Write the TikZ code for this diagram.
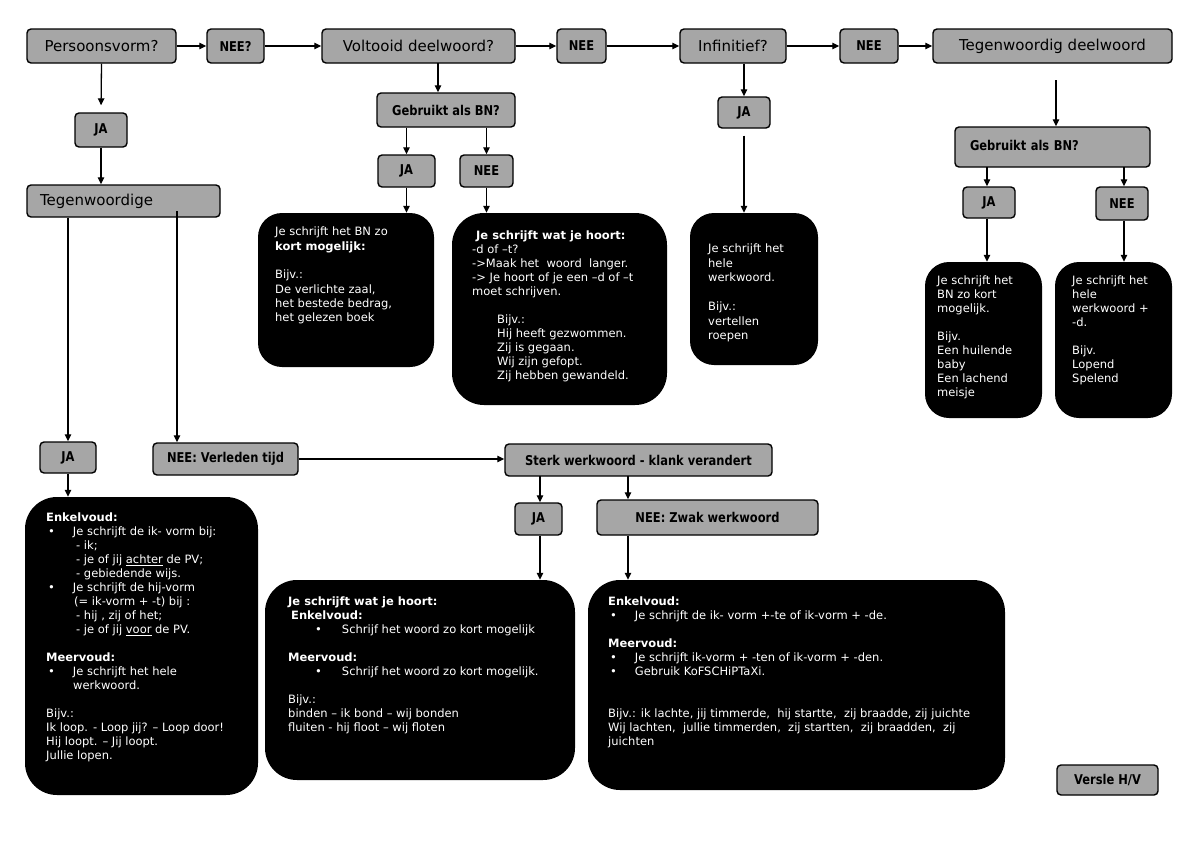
\documentclass[tikz,border=0pt]{standalone}
\usepackage{fontspec}
\setmainfont{DejaVu Sans}
\newfontfamily\condf[FakeStretch=0.85]{DejaVu Sans}
\usetikzlibrary{arrows.meta}
\definecolor{boxgray}{HTML}{A6A6A6}
\newcommand\blankline{\\[14pt]}
\begin{document}
\begin{tikzpicture}[x=1pt,y=-1pt,
 gbox/.style={draw=black, line width=1.4pt, fill=boxgray, rounded corners=4pt, inner sep=0pt, font=\fontsize{15}{17}\selectfont},
 cbox/.style={gbox, font=\condf\bfseries\fontsize{13.5}{16}\selectfont},
 bbox/.style={fill=black, rounded corners=24pt, inner sep=0pt},
 bigbox/.style={bbox, rounded corners=32pt},
 btxt/.style={text=white, align=left, inner sep=0pt, anchor=north west, font=\fontsize{11.5}{14}\selectfont},
 arr/.style={line width=1.3pt, -{Triangle[length=7pt,width=6.5pt]}},
 plain/.style={line width=1.3pt}]
\useasboundingbox (0,0) rectangle (1200,849);
\fill[white] (0,0) rectangle (1200,849);

% top row
\node[gbox, minimum width=149pt, minimum height=34pt] (pv) at (101.5,46) {Persoonsvorm?};
\node[cbox, minimum width=57pt, minimum height=34pt] (nee1) at (235.5,46) {NEE?};
\node[gbox, minimum width=193pt, minimum height=34pt] (vd) at (418.5,46) {Voltooid deelwoord?};
\node[cbox, minimum width=49pt, minimum height=34pt] (nee2) at (581.5,46) {NEE};
\node[gbox, minimum width=106pt, minimum height=34pt] (inf) at (733,46) {Infinitief?};
\node[cbox, minimum width=58pt, minimum height=34pt] (nee3) at (869,46) {NEE};
\node[gbox, minimum width=239pt, minimum height=34pt] (td) at (1052.5,46) {Tegenwoordig deelwoord};

\draw[arr] (pv.east) -- (nee1.west);
\draw[arr] (nee1.east) -- (vd.west);
\draw[arr] (vd.east) -- (nee2.west);
\draw[arr] (nee2.east) -- (inf.west);
\draw[arr] (inf.east) -- (nee3.west);
\draw[arr] (nee3.east) -- (td.west);

% left column
\node[cbox, minimum width=52pt, minimum height=34pt] (ja1) at (101,130) {JA};
\node[gbox, minimum width=193pt, minimum height=32pt, text width=167pt, align=left] (teg) at (123.5,201) {Tegenwoordige};
\draw[arr, shorten >=7pt] (pv.south) -- (ja1.north);
\draw[arr] (ja1.south) -- (teg.north -| ja1.south);

\node[cbox, minimum width=56pt, minimum height=31pt] (jaL) at (68,457.5) {JA};
\node[cbox, minimum width=145pt, minimum height=32pt] (neeVT) at (225.5,459) {NEE: Verleden tijd};
\draw[arr] (jaL.north |- teg.south) -- (jaL.north);
\coordinate (tegB) at (177,211);
\draw[arr] (tegB) -- (tegB |- neeVT.north);

\node[cbox, minimum width=267pt, minimum height=32pt] (sterk) at (638.5,460) {Sterk werkwoord - klank verandert};
\draw[arr] (neeVT.east) -- (sterk.west |- neeVT.east);

\node[cbox, minimum width=47pt, minimum height=32pt] (jaS) at (538.5,519) {JA};
\node[cbox, minimum width=221pt, minimum height=35pt] (neeZ) at (707.5,517.5) {NEE: Zwak werkwoord};
\coordinate (sterkJ) at (540,476);
\coordinate (sterkN) at (628,476);
\draw[arr] (sterkJ) -- (sterkJ |- jaS.north);
\draw[arr] (sterkN) -- (sterkN |- neeZ.north);

% black boxes bottom
\node[bigbox, minimum width=233pt, minimum height=298pt] (b1) at (141.5,646) {};
\node[bigbox, minimum width=310pt, minimum height=200pt] (b3) at (420,680) {};
\node[bigbox, minimum width=417pt, minimum height=210pt] (b4) at (796.5,685) {};
\draw[arr] (jaL.south) -- (b1.north -| jaL.south);
\draw[arr] (sterkJ |- jaS.south) -- (sterkJ |- b3.north);
\draw[arr] (sterkN |- neeZ.south) -- (sterkN |- b4.north);

\node[cbox, minimum width=101pt, minimum height=30pt] (versle) at (1107.5,780) {Versle H/V};

% middle (voltooid deelwoord)
\node[cbox, minimum width=138pt, minimum height=34pt] (gb1) at (446,110) {Gebruikt als BN?};
\coordinate (vdB) at (438,63);
\draw[arr] (vdB) -- (vdB |- gb1.north);
\node[cbox, minimum width=57pt, minimum height=32pt] (jaV) at (406.5,171) {JA};
\node[cbox, minimum width=53pt, minimum height=32pt] (neeV) at (486.5,171) {NEE};
\draw[arr] (jaV.north |- gb1.south) -- (jaV.north);
\draw[arr] (neeV.north |- gb1.south) -- (neeV.north);
\node[bbox, minimum width=176pt, minimum height=154pt] (bA) at (346,290) {};
\node[bigbox, minimum width=215pt, minimum height=192pt] (bB) at (559.5,309) {};
\draw[arr] (jaV.south) -- (jaV.south |- bA.north);
\draw[arr] (neeV.south) -- (neeV.south |- bB.north);

% infinitief
\node[cbox, minimum width=52pt, minimum height=31pt] (jaI) at (744,112.5) {JA};
\draw[arr] (jaI.north |- inf.south) -- (jaI.north);
\node[bbox, minimum width=128pt, minimum height=152pt] (bC) at (754,289) {};
\draw[arr] ([yshift=-7pt]jaI.south) -- (jaI.south |- bC.north);

% tegenwoordig deelwoord
\node[cbox, minimum width=195pt, minimum height=40pt, text width=165pt, align=left] (gb2) at (1052.5,147) {\raisebox{4pt}{Gebruikt als BN?}};
\coordinate (tdB) at (1056,80);
\draw[arr] (tdB) -- (tdB |- gb2.north);
\node[cbox, minimum width=52pt, minimum height=31pt] (jaT) at (989,202.5) {JA};
\node[cbox, minimum width=52pt, minimum height=33pt] (neeT) at (1122,203.5) {NEE};
\coordinate (gbJ) at (987,167);
\coordinate (gbN) at (1124,167);
\draw[arr] (gbJ) -- (gbJ |- jaT.north);
\draw[arr] (gbN) -- (gbN |- neeT.north);
\node[bbox, minimum width=117pt, minimum height=156pt] (bD) at (983.5,340) {};
\node[bbox, minimum width=117pt, minimum height=156pt] (bE) at (1113.5,340) {};
\draw[arr] (gbJ |- jaT.south) -- (gbJ |- bD.north);
\draw[arr] (gbN |- neeT.south) -- (gbN |- bE.north);

% texts in black boxes
\node[btxt, font=\fontsize{11.5}{14.3}\selectfont] (tA) at (275,227) {Je schrijft het BN zo\\
\textbf{kort mogelijk:}\\[14.3pt]
Bijv.:\\
De verlichte zaal,\\
het bestede bedrag,\\
het gelezen boek};

\node[btxt] (tB) at (472,231) {\hspace*{4pt}\textbf{Je schrijft wat je hoort:}\\
-d of –t?\\
->Maak het\ \ woord\ \ langer.\\
-> Je hoort of je een –d of –t\\
moet schrijven.\blankline
\hspace*{25pt}Bijv.:\\
\hspace*{25pt}Hij heeft gezwommen.\\
\hspace*{25pt}Zij is gegaan.\\
\hspace*{25pt}Wij zijn gefopt.\\
\hspace*{25pt}Zij hebben gewandeld.};

\node[btxt, font=\fontsize{11.5}{14.5}\selectfont] (tC) at (708,244) {Je schrijft het\\
hele\\
werkwoord.\\[14.5pt]
Bijv.:\\
vertellen\\
roepen};

\node[btxt] (tD) at (937,276) {Je schrijft het\\
BN zo kort\\
mogelijk.\blankline
Bijv.\\
Een huilende\\
baby\\
Een lachend\\
meisje};

\node[btxt] (tE) at (1072,276) {Je schrijft het\\
hele\\
werkwoord +\\
-d.\blankline
Bijv.\\
Lopend\\
Spelend};

\node[btxt] (t1) at (46,513) {\textbf{Enkelvoud:}\\
\hspace*{2pt}•\hspace*{18pt}Je schrijft de ik- vorm bij:\\
\hspace*{30pt}- ik;\\
\hspace*{30pt}- je of jij \underline{achter} de PV;\\
\hspace*{30pt}- gebiedende wijs.\\
\hspace*{2pt}•\hspace*{18pt}Je schrijft de hij-vorm\\
\hspace*{28pt}(= ik-vorm + -t) bij :\\
\hspace*{30pt}- hij , zij of het;\\
\hspace*{30pt}- je of jij \underline{voor} de PV.\blankline
\textbf{Meervoud:}\\
\hspace*{2pt}•\hspace*{18pt}Je schrijft het hele\\
\hspace*{27pt}werkwoord.\blankline
Bijv.:\\
Ik loop. - Loop jij? – Loop door!\\
Hij loopt. – Jij loopt.\\
Jullie lopen.};

\node[btxt] (t3) at (288,597) {\textbf{Je schrijft wat je hoort:}\\
\hspace*{3pt}\textbf{Enkelvoud:}\\
\hspace*{27pt}•\hspace*{20pt}Schrijf het woord zo kort mogelijk\blankline
\textbf{Meervoud:}\\
\hspace*{27pt}•\hspace*{20pt}Schrijf het woord zo kort mogelijk.\blankline
Bijv.:\\
binden – ik bond – wij bonden\\
fluiten - hij floot – wij floten};

\node[btxt] (t4) at (608,597) {\textbf{Enkelvoud:}\\
\hspace*{2pt}•\hspace*{18pt}Je schrijft de ik- vorm +-te of ik-vorm + -de.\blankline
\textbf{Meervoud:}\\
\hspace*{2pt}•\hspace*{18pt}Je schrijft ik-vorm + -ten of ik-vorm + -den.\\
\hspace*{2pt}•\hspace*{18pt}Gebruik KoFSCHiPTaXi.\\[28pt]
Bijv.: ik lachte, jij timmerde,\ \ hij startte,\ \ zij braadde, zij juichte\\
Wij lachten,\ \ jullie timmerden,\ \ zij startten,\ \ zij braadden,\ \ zij\\
juichten};

\end{tikzpicture}
\end{document}
